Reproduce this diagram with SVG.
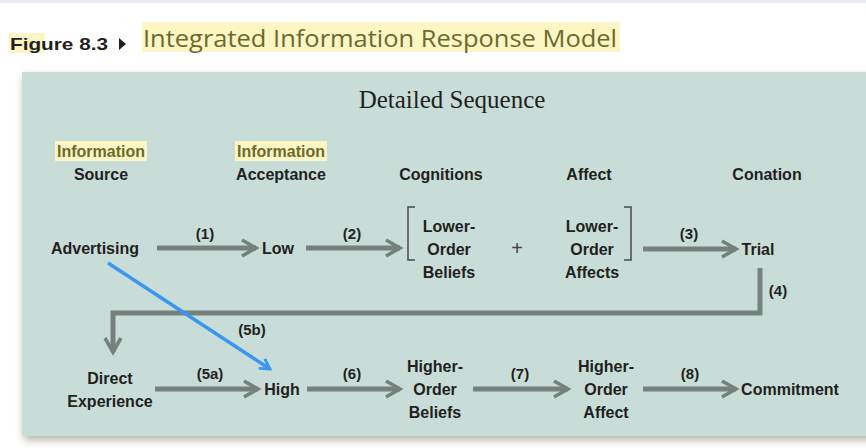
<svg xmlns="http://www.w3.org/2000/svg" width="866" height="448" viewBox="0 0 866 448">
<defs>
<style>
.t{font-family:"Liberation Sans",Arial,sans-serif;font-weight:bold;font-size:16px;fill:#231f20;text-anchor:middle}
.l{font-family:"Liberation Sans",Arial,sans-serif;font-weight:bold;font-size:15px;fill:#231f20;text-anchor:middle}
.a{stroke:#76807c;stroke-width:5;fill:none}
.hl{fill:#fbf6c4}
</style>
<marker id="ah" viewBox="0 0 10 10" refX="8" refY="5" markerWidth="4" markerHeight="4" orient="auto" markerUnits="strokeWidth"><path d="M1,1 L8,5 L1,9" fill="none" stroke="#76807c" stroke-width="1.8"/></marker>
<marker id="bh" viewBox="0 0 10 10" refX="8" refY="5" markerWidth="4" markerHeight="4" orient="auto" markerUnits="strokeWidth"><path d="M1,1 L8,5 L1,9" fill="none" stroke="#3b96f0" stroke-width="2"/></marker>
<filter id="sh" x="-5%" y="-5%" width="110%" height="115%"><feGaussianBlur stdDeviation="4"/></filter>
</defs>
<rect width="866" height="448" fill="#fff"/>
<rect x="0" y="0" width="866" height="3" fill="#e6ebf2"/>
<g id="title">
<rect class="hl" x="9" y="33" width="36" height="20"/>
<text x="10" y="50" font-family="Liberation Sans,Arial,sans-serif" font-weight="bold" font-size="17" fill="#231f20" textLength="98" lengthAdjust="spacingAndGlyphs">Figure 8.3</text>
<path d="M119,38 L126,44 L119,50 Z" fill="#231f20"/>
<rect class="hl" x="142" y="22" width="478" height="30"/>
<text x="143" y="47" font-family="Open Sans,sans-serif" font-size="24" fill="#6b6a2c" textLength="474" lengthAdjust="spacingAndGlyphs">Integrated Information Response Model</text>
</g>
<rect x="24" y="76" width="850" height="364" fill="#6b6650" opacity="0.5" filter="url(#sh)"/>
<rect x="22" y="72" width="850" height="364" fill="#c8ddd8"/>
<text x="452" y="108" font-family="Liberation Serif,serif" font-size="25" fill="#231f20" text-anchor="middle">Detailed Sequence</text>
<g id="headers">
<rect class="hl" x="55" y="141" width="92" height="20"/>
<rect class="hl" x="235" y="141" width="92" height="20"/>
<text class="t" x="101" y="157" style="fill:#6b6a2c">Information</text>
<text class="t" x="101" y="180">Source</text>
<text class="t" x="281" y="157" style="fill:#6b6a2c">Information</text>
<text class="t" x="281" y="180">Acceptance</text>
<text class="t" x="441" y="180">Cognitions</text>
<text class="t" x="589" y="180">Affect</text>
<text class="t" x="767" y="180">Conation</text>
</g>
<g id="advertising"><text class="t" x="95" y="254">Advertising</text></g>
<g id="low"><text class="t" x="278" y="254">Low</text></g>
<g id="lower"><path d="M415,207 H408 V260 H415 M624,207 H631 V260 H624" fill="none" stroke="#4a4a4a" stroke-width="1.5"/>
<text class="t" x="449" y="232">Lower-</text><text class="t" x="449" y="255">Order</text><text class="t" x="449" y="278">Beliefs</text>
<text x="517" y="255" font-family="Liberation Sans,sans-serif" font-size="20" fill="#444" text-anchor="middle">+</text>
<text class="t" x="592" y="232">Lower-</text><text class="t" x="592" y="255">Order</text><text class="t" x="592" y="278">Affects</text></g>
<g id="trial"><text class="t" x="758" y="255">Trial</text></g>
<g id="direct"><text class="t" x="110" y="384">Direct</text><text class="t" x="110" y="407">Experience</text></g>
<g id="high"><text class="t" x="282" y="395">High</text></g>
<g id="hob"><text class="t" x="435" y="372">Higher-</text><text class="t" x="435" y="395">Order</text><text class="t" x="435" y="418">Beliefs</text></g>
<g id="hoa"><text class="t" x="606" y="372">Higher-</text><text class="t" x="606" y="395">Order</text><text class="t" x="606" y="418">Affect</text></g>
<g id="commitment"><text class="t" x="790" y="395">Commitment</text></g>
<g id="connectors">
<path class="a" marker-end="url(#ah)" d="M157,248 H256"/>
<path class="a" marker-end="url(#ah)" d="M306,248 H400"/>
<path class="a" marker-end="url(#ah)" d="M643,249 H736"/>
<path class="a" marker-end="url(#ah)" d="M760,268 V313 H113 V352"/>
<path class="a" marker-end="url(#ah)" d="M155,389 H258"/>
<path class="a" marker-end="url(#ah)" d="M307,389 H400"/>
<path class="a" marker-end="url(#ah)" d="M473,389 H568"/>
<path class="a" marker-end="url(#ah)" d="M643,389 H736"/>
<path d="M108,263 L270,369" stroke="#3b96f0" stroke-width="3.5" fill="none" marker-end="url(#bh)"/>
<text class="l" x="205" y="239">(1)</text>
<text class="l" x="352" y="239">(2)</text>
<text class="l" x="689" y="239">(3)</text>
<text class="l" x="778" y="296">(4)</text>
<text class="l" x="252" y="335">(5b)</text>
<text class="l" x="210" y="379">(5a)</text>
<text class="l" x="352" y="379">(6)</text>
<text class="l" x="520" y="379">(7)</text>
<text class="l" x="690" y="379">(8)</text>
</g>
</svg>
